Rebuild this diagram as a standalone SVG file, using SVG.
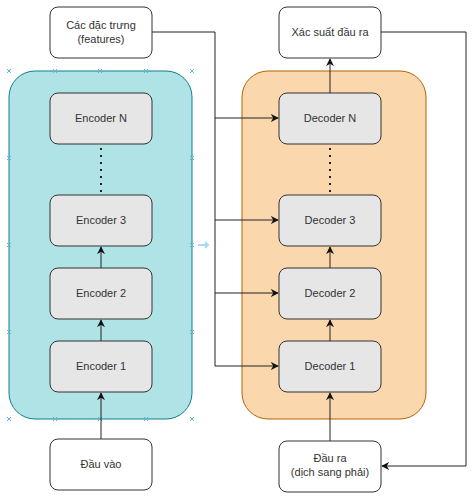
<svg xmlns="http://www.w3.org/2000/svg" width="474" height="500" viewBox="0 0 474 500">
<style>
text{font-family:"Liberation Sans",Arial,sans-serif;font-size:11px;fill:#333;text-anchor:middle}
.box{fill:#fff;stroke:#333;stroke-width:1}
.blk{fill:#e6e6e6;stroke:#333;stroke-width:1}
.e{fill:none;stroke:#222;stroke-width:1}
.dot{fill:none;stroke:#222;stroke-width:2;stroke-dasharray:2 5}
.h{stroke:#5bb8d6;stroke-width:1}
</style>
<defs>
<marker id="a" viewBox="0 0 10 10" refX="9" refY="5" markerWidth="8" markerHeight="8" orient="auto" markerUnits="userSpaceOnUse">
<path d="M0,0 L10,5 L0,10 L3,5 Z" fill="#111"/>
</marker>
</defs>
<rect width="474" height="500" fill="#fff"/>
<g id="encoder-stack"><rect x="9" y="71" width="183" height="348" rx="26" fill="#b0e3e6" stroke="#0e8088"/></g>
<g id="decoder-stack"><rect x="242" y="71" width="184" height="348" rx="26" fill="#fad7ac" stroke="#b46504"/></g>
<g id="handles">
<path class="h" d="M7,69l4,4m0,-4l-4,4 M53,69l4,4m0,-4l-4,4 M98,69l4,4m0,-4l-4,4 M144,69l4,4m0,-4l-4,4 M190,69l4,4m0,-4l-4,4 M7,417l4,4m0,-4l-4,4 M53,417l4,4m0,-4l-4,4 M98,417l4,4m0,-4l-4,4 M144,417l4,4m0,-4l-4,4 M190,417l4,4m0,-4l-4,4 M7,156l4,4m0,-4l-4,4 M190,156l4,4m0,-4l-4,4 M7,243l4,4m0,-4l-4,4 M190,243l4,4m0,-4l-4,4 M7,330l4,4m0,-4l-4,4 M190,330l4,4m0,-4l-4,4"/>
<path d="M198,245h10m-3,-3l3,3l-3,3" fill="none" stroke="#a8daf0" stroke-width="2"/>
</g>
<g id="connectors">
<path class="e" d="M152,32H215V366"/>
<path class="e" d="M215,118H278" marker-end="url(#a)"/>
<path class="e" d="M215,220H278" marker-end="url(#a)"/>
<path class="e" d="M215,293H278" marker-end="url(#a)"/>
<path class="e" d="M215,366H278" marker-end="url(#a)"/>
<path class="e" d="M381,32H466V466H382" marker-end="url(#a)"/>
<path class="e" d="M330,93V59" marker-end="url(#a)"/>
<path class="dot" d="M330,148V192"/>
<path class="e" d="M330,268V247" marker-end="url(#a)"/>
<path class="e" d="M330,341V320" marker-end="url(#a)"/>
<path class="e" d="M330,441V393" marker-end="url(#a)"/>
<path class="dot" d="M101,148V192"/>
<path class="e" d="M101,268V247" marker-end="url(#a)"/>
<path class="e" d="M101,341V320" marker-end="url(#a)"/>
<path class="e" d="M101,439V393" marker-end="url(#a)"/>
</g>
<g id="features"><rect class="box" x="50" y="7" width="102" height="51" rx="8"/><text x="101" y="29">Các đặc trưng</text><text x="101" y="43">(features)</text></g>
<g id="encoder-n"><rect class="blk" x="50" y="93" width="102" height="51" rx="8"/><text x="101" y="122">Encoder N</text></g>
<g id="encoder-3"><rect class="blk" x="50" y="195" width="102" height="51" rx="8"/><text x="101" y="224">Encoder 3</text></g>
<g id="encoder-2"><rect class="blk" x="50" y="268" width="102" height="51" rx="8"/><text x="101" y="297">Encoder 2</text></g>
<g id="encoder-1"><rect class="blk" x="50" y="341" width="102" height="51" rx="8"/><text x="101" y="370">Encoder 1</text></g>
<g id="input"><rect class="box" x="50" y="439" width="102" height="51" rx="8"/><text x="101" y="468">Đầu vào</text></g>
<g id="output-prob"><rect class="box" x="279" y="7" width="102" height="51" rx="8"/><text x="330" y="36">Xác suất đầu ra</text></g>
<g id="decoder-n"><rect class="blk" x="279" y="93" width="102" height="51" rx="8"/><text x="330" y="122">Decoder N</text></g>
<g id="decoder-3"><rect class="blk" x="279" y="195" width="102" height="51" rx="8"/><text x="330" y="224">Decoder 3</text></g>
<g id="decoder-2"><rect class="blk" x="279" y="268" width="102" height="51" rx="8"/><text x="330" y="297">Decoder 2</text></g>
<g id="decoder-1"><rect class="blk" x="279" y="341" width="102" height="51" rx="8"/><text x="330" y="370">Decoder 1</text></g>
<g id="shifted-output"><rect class="box" x="279" y="441" width="102" height="51" rx="8"/><text x="330" y="462">Đầu ra</text><text x="330" y="476">(dịch sang phải)</text></g>
</svg>
